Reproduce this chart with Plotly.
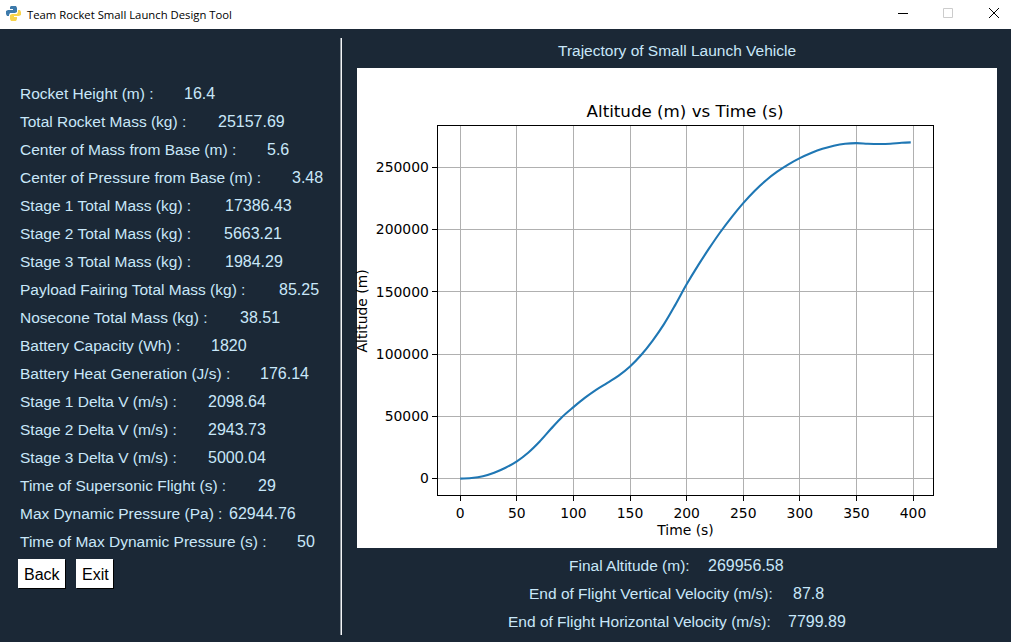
import plotly.graph_objects as go

W, H = 1011, 642

time_s = [0, 10, 20, 30, 40, 50, 60, 70, 80, 90, 100, 110, 120, 130, 140, 150, 160, 170, 180, 190,
          200, 210, 220, 230, 240, 250, 260, 270, 280, 290, 300, 310, 320, 330, 340, 350, 360, 370, 380, 390, 398]
altitude_m = [0, 500, 1900, 4700, 8700, 13900, 20800, 29600, 39800, 49500, 57400, 64800, 71300, 76900, 82700,
              90000, 99400, 110800, 124000, 139500, 156000, 171000, 185000, 198200, 210200, 221200, 231000,
              239400, 246400, 252300, 257300, 261400, 264800, 267300, 268900, 269400, 268900, 268700, 268900,
              269700, 269957]

x_ticks = [0, 50, 100, 150, 200, 250, 300, 350, 400]
y_ticks = [0, 50000, 100000, 150000, 200000, 250000]

left_labels = ["Rocket Height (m) :", "Total Rocket Mass (kg) :", "Center of Mass from Base (m) :",
               "Center of Pressure from Base (m) :", "Stage 1 Total Mass (kg) :", "Stage 2 Total Mass (kg) :",
               "Stage 3 Total Mass (kg) :", "Payload Fairing Total Mass (kg) :", "Nosecone Total Mass (kg) :",
               "Battery Capacity (Wh) :", "Battery Heat Generation (J/s) :", "Stage 1 Delta V (m/s) :",
               "Stage 2 Delta V (m/s) :", "Stage 3 Delta V (m/s) :", "Time of Supersonic Flight (s) :",
               "Max Dynamic Pressure (Pa) :", "Time of Max Dynamic Pressure (s) :"]
left_values = ["16.4", "25157.69", "5.6", "3.48", "17386.43", "5663.21", "1984.29", "85.25", "38.51",
               "1820", "176.14", "2098.64", "2943.73", "5000.04", "29", "62944.76", "50"]
left_value_x = [184, 218, 267, 292, 225, 224, 225, 279, 240, 211, 260, 208, 208, 208, 258, 229, 297]

bottom_labels = ["Final Altitude (m):", "End of Flight Vertical Velocity (m/s):", "End of Flight Horizontal Velocity (m/s):"]
bottom_values = ["269956.58", "87.8", "7799.89"]
bottom_label_x = [569, 529, 508]
bottom_value_x = [708, 793, 788]

BG = "#1b2836"
TXT = "#c9e7f9"
SANS = "Liberation Sans, Arial, sans-serif"
MPL = "DejaVu Sans, sans-serif"
LABEL_SIZE = 15.5
VALUE_SIZE = 16


def px(x):
    return x / W


def py(y):
    return 1 - y / H


def rect(x0, y0, x1, y1, color, layer="below"):
    return dict(type="rect", xref="paper", yref="paper", x0=px(x0), x1=px(x1), y0=py(y0), y1=py(y1),
                fillcolor=color, line_width=0, layer=layer)


def seg(x0, y0, x1, y1, color, width=1.0):
    return dict(type="line", xref="paper", yref="paper", x0=px(x0), x1=px(x1), y0=py(y0), y1=py(y1),
                line=dict(color=color, width=width), layer="below")


def blob(points, color):
    d = "M " + " L ".join(f"{px(a):.5f},{py(b):.5f}" for a, b in points) + " Z"
    return dict(type="path", xref="paper", yref="paper", path=d, fillcolor=color, line_width=0, layer="below")


def text(x, y, s, size=LABEL_SIZE, color=TXT, family=SANS, anchor="left"):
    return dict(xref="paper", yref="paper", x=px(x), y=py(y), text=s, showarrow=False, xanchor=anchor,
                yanchor="middle", align=anchor, xshift=0, font=dict(family=family, size=size, color=color),
                borderpad=0, borderwidth=0)


shapes = [
    rect(0, 0, W, 29, "#ffffff"),
    rect(357, 68, 997, 548, "#ffffff"),
    rect(340.5, 38, 342, 635, "#f4f6f8"),
    # buttons, with the thin dark edge at the lower right
    rect(19, 560, 66, 589, "#000000"),
    rect(18, 559, 65, 588, "#ffffff"),
    rect(77, 560, 114, 589, "#000000"),
    rect(76, 559, 113, 588, "#ffffff"),
    # title bar icon
    blob([(11, 6), (16, 6), (17, 8), (17, 12), (15, 13), (10, 13), (9, 15), (9, 16), (7, 16), (6, 14), (6, 11),
          (8, 10), (13, 10), (13, 9), (10, 9), (10, 7)], "#3d7aab"),
    blob([(20, 10), (21, 12), (21, 15), (19, 16), (14, 16), (14, 17), (17, 17), (17, 19), (16, 21), (11, 21),
          (10, 19), (10, 15), (12, 14), (17, 14), (18, 12), (18, 10)], "#f7d44c"),
    # window controls
    seg(898, 13.5, 908, 13.5, "#000000", 1),
    dict(type="rect", xref="paper", yref="paper", x0=px(943.5), x1=px(952.5), y0=py(8.5), y1=py(17.5),
         line=dict(color="#cccccc", width=1), layer="below"),
    seg(989, 8, 999, 18, "#000000", 1),
    seg(989, 18, 999, 8, "#000000", 1),
]

annotations = [
    text(27, 14.5, "Team Rocket Small Launch Design Tool", size=11.3, color="#000000", family="Open Sans, sans-serif"),
    text(677, 51, "Trajectory of Small Launch Vehicle", anchor="center"),
    text(42, 574, "Back", size=16, color="#000000", anchor="center"),
    text(95, 574, "Exit", size=16, color="#000000", anchor="center"),
]
for i, (lab, val, vx) in enumerate(zip(left_labels, left_values, left_value_x)):
    yy = 93.6 + i * 28
    annotations.append(text(20, yy, lab))
    annotations.append(text(vx, yy, val, size=VALUE_SIZE))
for i, (lab, val, lx, vx) in enumerate(zip(bottom_labels, bottom_values, bottom_label_x, bottom_value_x)):
    yy = 565 + i * 28
    annotations.append(text(lx, yy, lab))
    annotations.append(text(vx, yy, val, size=VALUE_SIZE))

fig = go.Figure(go.Scatter(x=time_s, y=altitude_m, mode="lines",
                           line=dict(color="#1f77b4", width=2.1, shape="spline", smoothing=1.0),
                           hoverinfo="skip", showlegend=False))

axis_common = dict(showgrid=True, gridcolor="#b0b0b0", gridwidth=1.1, zeroline=False, showline=True,
                   linecolor="#000000", linewidth=1.1, mirror=True, ticks="outside", ticklen=4.9, tickwidth=1.1,
                   tickcolor="#000000", tickfont=dict(family=MPL, size=13.9, color="#000000"))

fig.update_layout(
    width=W, height=H, autosize=False,
    margin=dict(l=0, r=0, t=0, b=0, pad=0),
    paper_bgcolor=BG, plot_bgcolor="#ffffff",
    title=dict(text="Altitude (m) vs Time (s)", x=px(685), xref="paper", xanchor="center", y=py(111),
               yref="paper", yanchor="middle", font=dict(family=MPL, size=16.7, color="#000000")),
    xaxis=dict(domain=[px(437.6), px(933.4)], range=[-20.0, 418.0], tickvals=x_ticks, ticktext=[str(v) for v in x_ticks],
               title=dict(text="Time (s)", font=dict(family=MPL, size=13.9, color="#000000"), standoff=5),
               automargin=False, **axis_common),
    yaxis=dict(domain=[py(495.4), py(126.4)], range=[-13500, 282800], tickvals=y_ticks,
               ticktext=[str(v) for v in y_ticks],
               title=dict(text="Altitude (m)", font=dict(family=MPL, size=13.9, color="#000000"), standoff=4),
               automargin=False, **axis_common),
    shapes=shapes, annotations=annotations,
)

fig.write_html("out.html", config=dict(displayModeBar=False),
               post_script="document.body.style.margin='0';document.body.style.overflow='hidden';")
